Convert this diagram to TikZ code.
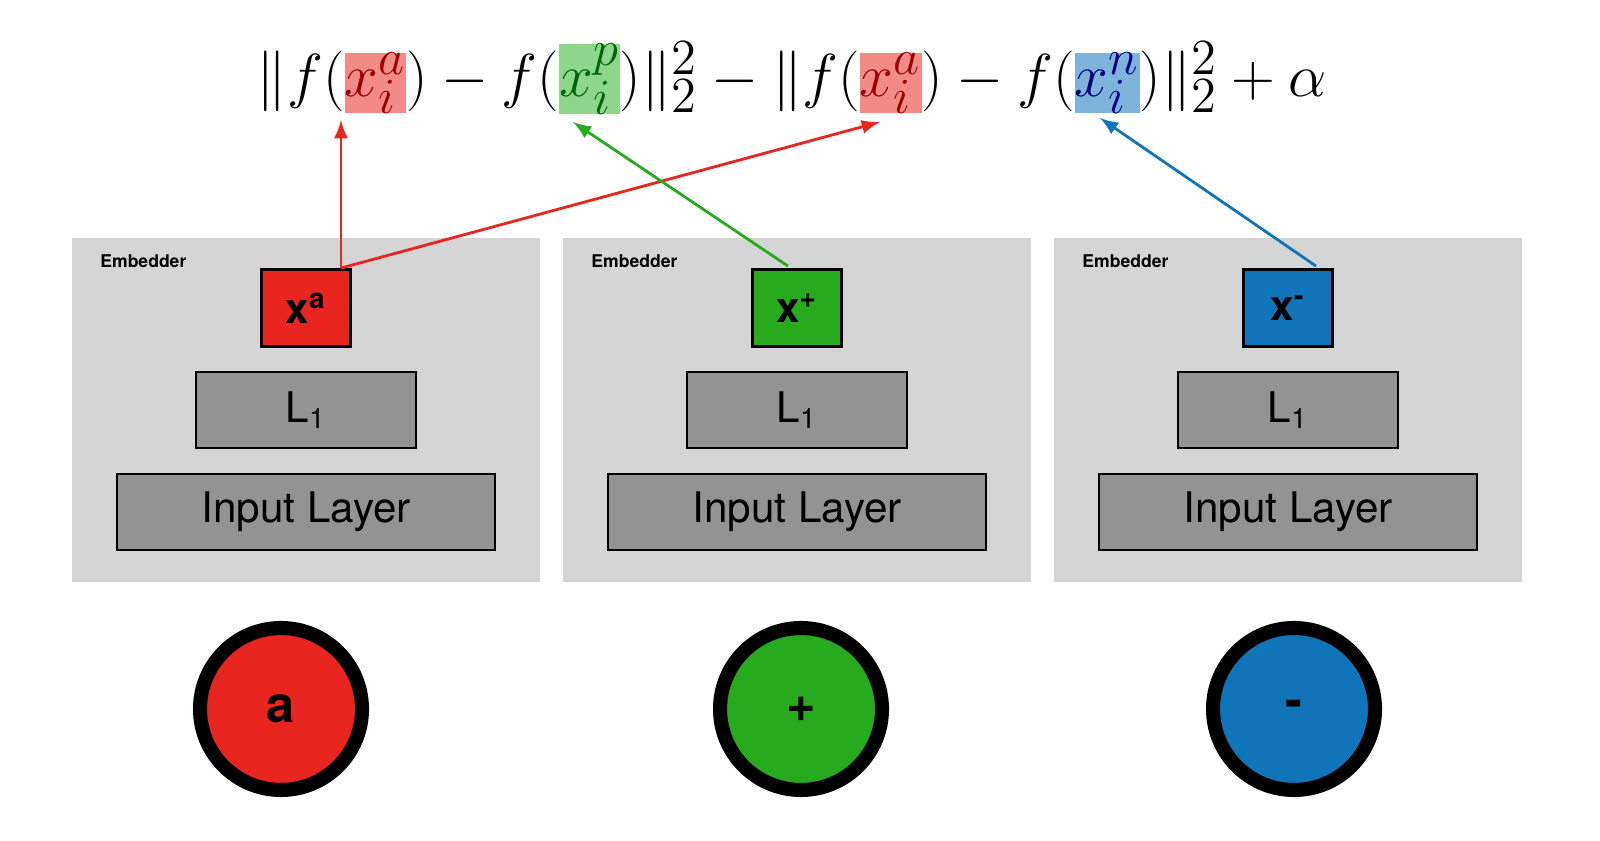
\documentclass[tikz,border=0pt]{standalone}
\usepackage{fontspec}
\setsansfont{TeX Gyre Heros}
\usepackage{xcolor}
\usetikzlibrary{calc}
\definecolor{ared}{HTML}{E8251F}
\definecolor{pgreen}{HTML}{27AA1E}
\definecolor{nblue}{HTML}{1075B8}
\definecolor{hred}{HTML}{F28B87}
\definecolor{hgreen}{HTML}{8ED68A}
\definecolor{hblue}{HTML}{7EB4DC}
\definecolor{panelgray}{HTML}{D5D5D5}
\definecolor{layergray}{HTML}{939393}
\begin{document}
\begin{tikzpicture}
[
panel/.style={rectangle, fill=panelgray, minimum width=4.68cm, minimum height=3.44cm},
emb/.style={rectangle, draw, thick, minimum width=0.89cm, minimum height=0.77cm, font=\sffamily\bfseries\large},
layer/.style={rectangle, draw=black, fill=layergray, thick, minimum height=0.76cm, font=\sffamily\large},
tag/.style={circle, draw=black, line width=4pt, minimum size=1.62cm, font=\sffamily\bfseries\Large},
elabel/.style={font=\sffamily\bfseries\tiny, anchor=west},
link/.style={->, >=latex, thick},
]
\useasboundingbox (0,0) rectangle (16,8.41);

% formula
\setlength{\fboxsep}{0pt}
\node at (7.92,7.63) (loss) {\fontsize{19}{23}\selectfont
$\|f(\colorbox{hred}{$\color{red!60!black}x_i^a$})-f(\colorbox{hgreen}{$\color{green!40!black}x_i^p$})\|_2^2
-\|f(\colorbox{hred}{$\color{red!60!black}x_i^a$})-f(\colorbox{hblue}{$\color{blue!50!black}x_i^n$})\|_2^2+\alpha$};
\coordinate (ta) at (3.41,7.21);
\coordinate (tp) at (5.73,7.19);
\coordinate (tb) at (8.80,7.19);
\coordinate (tn) at (11.00,7.23);

% anchor panel
\node at (3.06,4.31) [panel] (pa) {};
\node at (0.88,5.80) [elabel] {Embedder};
\node at (3.06,5.33) [emb, fill=ared] (xa) {x\textsuperscript{a}};
\node at (3.06,4.31) [layer, minimum width=2.2cm] (la) {L\textsubscript{1}};
\node at (3.06,3.29) [layer, minimum width=3.78cm] (ia) {Input Layer};
\node at (2.81,1.32) [tag, fill=ared] (ca) {a};

% positive panel
\node at (7.97,4.31) [panel] (pp) {};
\node at (5.79,5.80) [elabel] {Embedder};
\node at (7.97,5.33) [emb, fill=pgreen] (xp) {x\textsuperscript{+}};
\node at (7.97,4.31) [layer, minimum width=2.2cm] (lp) {L\textsubscript{1}};
\node at (7.97,3.29) [layer, minimum width=3.78cm] (ip) {Input Layer};
\node at (8.01,1.32) [tag, fill=pgreen] (cp) {+};

% negative panel
\node at (12.88,4.31) [panel] (pn) {};
\node at (10.70,5.80) [elabel] {Embedder};
\node at (12.88,5.33) [emb, fill=nblue] (xn) {x\textsuperscript{-}};
\node at (12.88,4.31) [layer, minimum width=2.2cm] (ln) {L\textsubscript{1}};
\node at (12.88,3.29) [layer, minimum width=3.78cm] (in) {Input Layer};
\node at (12.94,1.32) [tag, fill=nblue] (cn) {-};

\coordinate (sa) at ($(xa.north)+(0.35,0)$);
\draw[link, ared] (sa) -- (sa |- ta);
\draw[link, ared] (sa) -- (tb);
\draw[link, pgreen] ($(xp.north)+(-0.09,0.02)$) -- (tp);
\draw[link, nblue] ($(xn.north)+(0.28,0.02)$) -- (tn);
\end{tikzpicture}
\end{document}
